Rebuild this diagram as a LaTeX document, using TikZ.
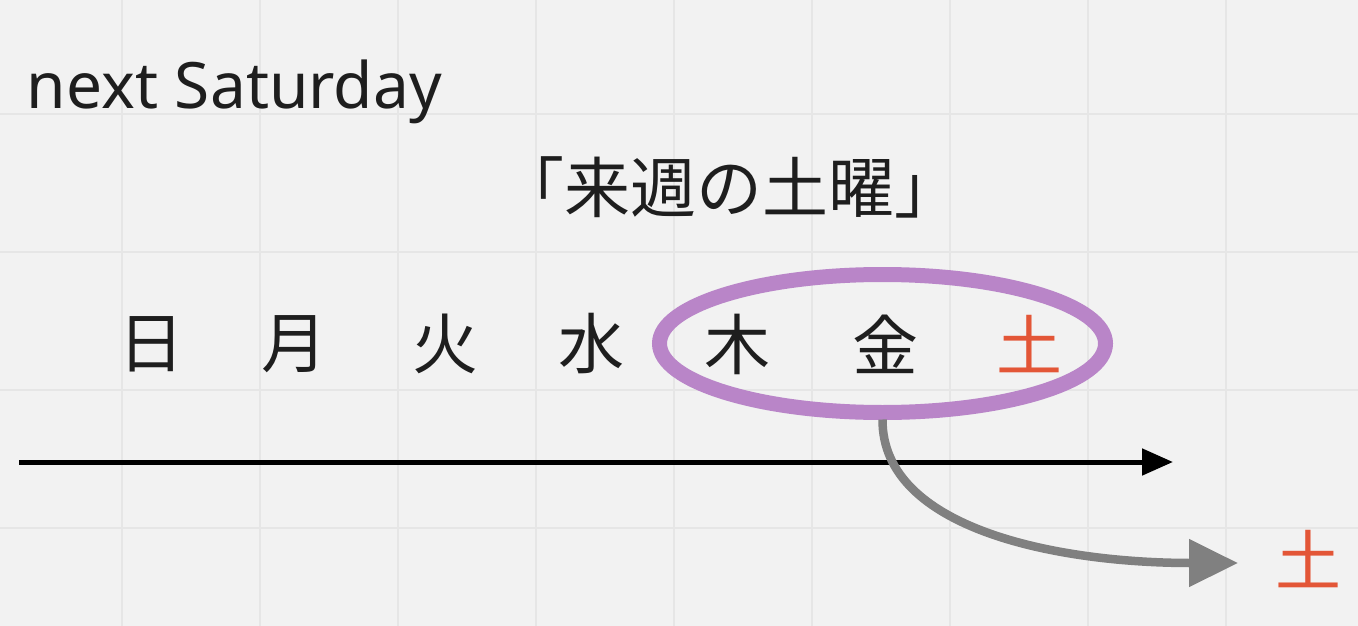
\documentclass[tikz,border=0pt]{standalone}
\usepackage{fontspec}
\setmainfont{Noto Sans}
\newfontfamily\cjk{Noto Sans CJK JP}
\usetikzlibrary{arrows.meta,shapes.geometric}
\definecolor{bgc}{HTML}{F2F2F2}
\definecolor{gridc}{HTML}{E6E6E6}
\definecolor{txt}{HTML}{1E1E1E}
\definecolor{purp}{HTML}{B985C8}
\definecolor{redc}{HTML}{E35637}
\definecolor{grayc}{HTML}{808080}
\tikzset{
  bigtxt/.style={inner sep=0pt, outer sep=0pt, text=txt, font=\fontsize{64}{70}\selectfont},
  day/.style={inner sep=0pt, outer sep=0pt, text=txt, font=\cjk\fontsize{66}{70}\selectfont},
  satday/.style={day, text=redc},
  gridline/.style={draw=gridc, line width=2pt},
}
\begin{document}
\begin{tikzpicture}[x=1pt,y=-1pt]
\fill[bgc] (0,0) rectangle (1358,626);
\useasboundingbox (0,0) rectangle (1358,626);
\foreach \gx in {122,260,398,536,674,812,950,1088,1226}
  \draw[gridline] (\gx,0) -- (\gx,626);
\foreach \gy in {114,252,390,528}
  \draw[gridline] (0,\gy) -- (1358,\gy);

\node[bigtxt, anchor=base west] (title) at (27,109) {next Saturday};
\node[day] (jp) at (729,187) {「来週の土曜」};

\node[day] (sun) at (151,344) {日};
\node[day] (mon) at (294,344) {月};
\node[day] (tue) at (445,344) {火};
\node[day] (wed) at (591,344) {水};
\node[day] (thu) at (737.5,344) {木};
\node[day] (fri) at (885,344) {金};
\node[satday] (sat) at (1029,344) {土};

\node[satday] (sat2) at (1308,559) {土};

\coordinate (axs) at (19,462);
\coordinate (axe) at (1173,462);
\draw[line width=5pt, -{Triangle[length=31pt,width=26pt]}] (axs) -- (axe);

\node[ellipse, draw=purp, line width=15pt, minimum width=446pt, minimum height=138pt, inner sep=0pt, outer sep=0pt] (ell) at (882.5,343.5) {};

\coordinate (gt) at (1238,563);
\draw[grayc, line width=8.5pt, -{Triangle[length=49pt,width=46pt]}]
  ([yshift=-7pt]ell.south) .. controls (882,530) and (1060,563) .. (gt);
\end{tikzpicture}
\end{document}
